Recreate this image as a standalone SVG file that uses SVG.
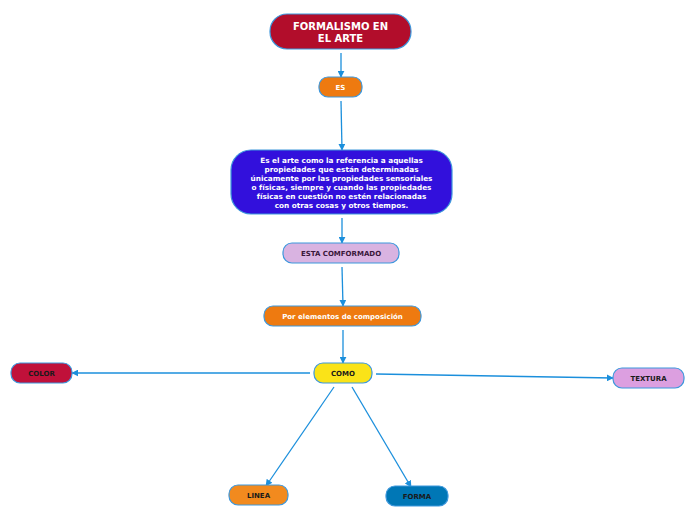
<svg xmlns="http://www.w3.org/2000/svg" width="696" height="520" viewBox="0 0 696 520">
<defs>
<marker id="arr" viewBox="0 0 10 10" refX="9" refY="5" markerWidth="7" markerHeight="7" markerUnits="userSpaceOnUse" orient="auto">
<path d="M0,0 L10,5 L0,10 z" fill="#1b8fdc"/>
</marker>
<style>
.n{stroke:#3d97dc;stroke-width:1.2}
.t{font-family:"DejaVu Sans",Verdana,sans-serif;font-weight:bold;text-anchor:middle}
.c{fill:none;stroke:#1b8fdc;stroke-width:1.3;marker-end:url(#arr)}
</style>
</defs>
<rect width="696" height="520" fill="#ffffff"/>
<g id="connectors">
<line class="c" x1="341" y1="53" x2="341" y2="77"/>
<line class="c" x1="341" y1="101" x2="342" y2="150"/>
<line class="c" x1="342" y1="218" x2="342" y2="243"/>
<line class="c" x1="342" y1="267" x2="343" y2="306"/>
<line class="c" x1="343" y1="330" x2="343" y2="363"/>
<line class="c" x1="310" y1="373" x2="72" y2="373"/>
<line class="c" x1="376" y1="374" x2="613" y2="378"/>
<line class="c" x1="334" y1="387" x2="266" y2="486"/>
<line class="c" x1="352" y1="387" x2="411" y2="487"/>
</g>
<g id="n-title">
<rect class="n" x="270" y="14" width="141" height="35" rx="17" fill="#b20d2b"/>
<text class="t" x="340.5" y="29.5" font-size="10" fill="#ffffff">FORMALISMO EN</text>
<text class="t" x="340.5" y="42" font-size="10" fill="#ffffff">EL ARTE</text>
</g>
<g id="n-es">
<rect class="n" x="319" y="77" width="43" height="20" rx="9" fill="#ee7a10"/>
<text class="t" x="340.5" y="90" font-size="7" fill="#ffffff">ES</text>
</g>
<g id="n-def">
<rect class="n" x="231" y="150" width="221" height="64" rx="20" fill="#3210dc"/>
<g font-size="7.3" fill="#ffffff">
<text class="t" x="341.5" y="163">Es el arte como la referencia a aquellas</text>
<text class="t" x="341.5" y="172">propiedades que están determinadas</text>
<text class="t" x="341.5" y="181">únicamente por las propiedades sensoriales</text>
<text class="t" x="341.5" y="190">o físicas, siempre y cuando las propiedades</text>
<text class="t" x="341.5" y="199">físicas en cuestión no estén relacionadas</text>
<text class="t" x="341.5" y="208">con otras cosas y otros tiempos.</text>
</g>
</g>
<g id="n-esta">
<rect class="n" x="283" y="243" width="116" height="20" rx="9" fill="#d9b3e1"/>
<text class="t" x="341" y="256" font-size="7" fill="#3a173a">ESTA COMFORMADO</text>
</g>
<g id="n-por">
<rect class="n" x="264" y="306" width="157" height="20" rx="9" fill="#ee7a10"/>
<text class="t" x="342.5" y="319" font-size="7" fill="#ffffff">Por elementos de composición</text>
</g>
<g id="n-como">
<rect class="n" x="314" y="363" width="58" height="20" rx="9" fill="#fae318"/>
<text class="t" x="343" y="376" font-size="7" fill="#1a1a1a">COMO</text>
</g>
<g id="n-color">
<rect class="n" x="11" y="363" width="61" height="20" rx="9" fill="#c0113a"/>
<text class="t" x="41.5" y="376" font-size="7" fill="#1a1a1a">COLOR</text>
</g>
<g id="n-textura">
<rect class="n" x="613" y="368" width="71" height="20" rx="9" fill="#dc9fe0"/>
<text class="t" x="648.5" y="381" font-size="7" fill="#1a1a1a">TEXTURA</text>
</g>
<g id="n-linea">
<rect class="n" x="229" y="485" width="59" height="20" rx="9" fill="#f28a1e"/>
<text class="t" x="258.5" y="498" font-size="7" fill="#1a1a1a">LINEA</text>
</g>
<g id="n-forma">
<rect class="n" x="386" y="486" width="62" height="20" rx="9" fill="#0077b6"/>
<text class="t" x="417" y="499" font-size="7" fill="#1a1a1a">FORMA</text>
</g>
</svg>
